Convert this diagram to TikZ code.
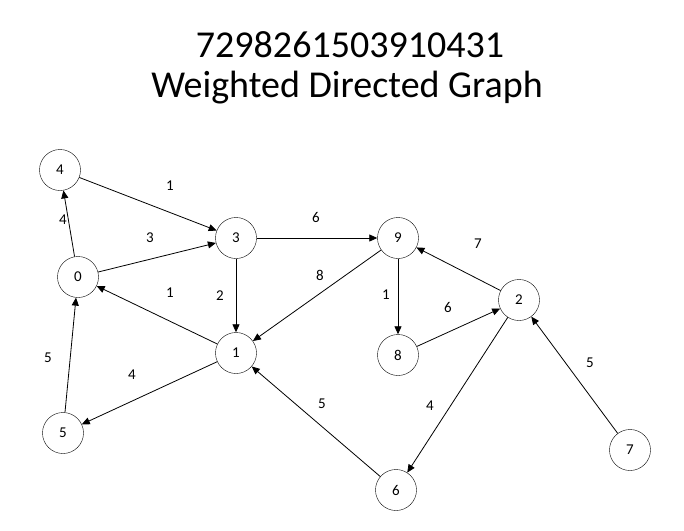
\documentclass[tikz,border=0pt]{standalone}
\usepackage{fontspec}
\setmainfont{Carlito}
\usetikzlibrary{arrows.meta,shapes.geometric}
\begin{document}
\begin{tikzpicture}[x=1pt,y=-1pt,
  vert/.style={draw,ellipse,minimum width=41pt,minimum height=41pt,inner sep=0pt,font=\fontsize{15}{17}\selectfont},
  edge/.style={draw,-{Triangle[length=8pt,width=7pt]},line width=0.8pt},
  wl/.style={font=\fontsize{15}{17}\selectfont}]
\useasboundingbox (0,0) rectangle (684,530);
\node[font=\fontsize{38}{42}\selectfont] (t1) at (350,45) {7298261503910431};
\node[font=\fontsize{38}{42}\selectfont] (t2) at (347,88) {Weighted Directed Graph};
\node[vert] (n4) at (60,170) {4};
\node[vert] (n3) at (236,238) {3};
\node[vert] (n9) at (398,238) {9};
\node[vert] (n0) at (78,277) {0};
\node[vert] (n2) at (519,300) {2};
\node[vert] (n1) at (236,353) {1};
\node[vert] (n8) at (398,355) {8};
\node[vert] (n5) at (63,433) {5};
\node[vert] (n6) at (396,490) {6};
\node[vert] (n7) at (630,450) {7};
\draw[edge] (n0) -- (n4);
\draw[edge] (n4) -- (n3);
\draw[edge] (n0) -- (n3);
\draw[edge] (n3) -- (n9);
\draw[edge] (n3) -- (n1);
\draw[edge] (n9) -- (n1);
\draw[edge] (n1) -- (n0);
\draw[edge] (n9) -- (n8);
\draw[edge] (n8) -- (n2);
\draw[edge] (n2) -- (n9);
\draw[edge] (n1) -- (n5);
\draw[edge] (n5) -- (n0);
\draw[edge] (n6) -- (n1);
\draw[edge] (n2) -- (n6);
\draw[edge] (n7) -- (n2);
\node[wl] (l1) at (63,220) {4};
\node[wl] (l2) at (170,186) {1};
\node[wl] (l3) at (150,238) {3};
\node[wl] (l4) at (316,217) {6};
\node[wl] (l5) at (220,296) {2};
\node[wl] (l6) at (320,275) {8};
\node[wl] (l7) at (170,293) {1};
\node[wl] (l8) at (386,295) {1};
\node[wl] (l9) at (448,307) {6};
\node[wl] (l10) at (478,244) {7};
\node[wl] (l11) at (132,375) {4};
\node[wl] (l12) at (48,358) {5};
\node[wl] (l13) at (322,404) {5};
\node[wl] (l14) at (430,406) {4};
\node[wl] (l15) at (590,363) {5};
\end{tikzpicture}
\end{document}
